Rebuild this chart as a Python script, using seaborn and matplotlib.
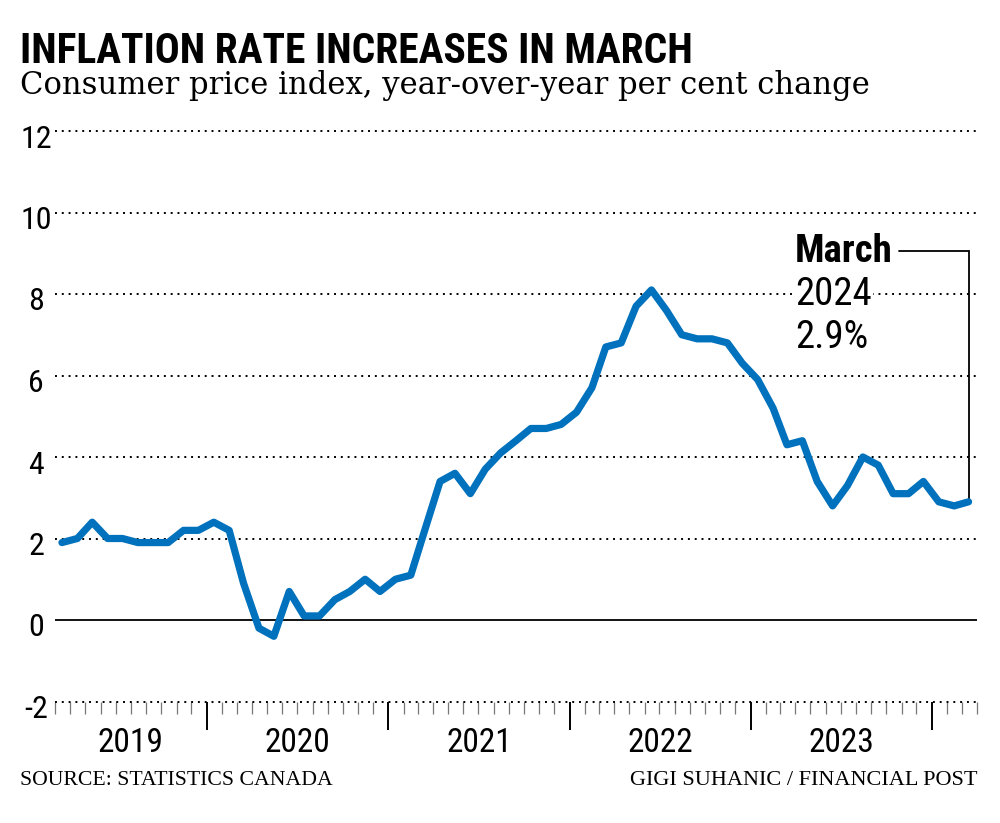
import matplotlib
matplotlib.use("Agg")
import pandas as pd
import matplotlib.pyplot as plt
import matplotlib.dates as mdates
import seaborn as sns
from matplotlib import font_manager, transforms

# CPI, year-over-year % change, March 2019 - March 2024
months = pd.date_range("2019-03-01", "2024-03-01", freq="MS")
cpi = [1.9, 2.0, 2.4, 2.0, 2.0, 1.9, 1.9, 1.9, 2.2, 2.2,
       2.4, 2.2, 0.9, -0.2, -0.4, 0.7, 0.1, 0.1, 0.5, 0.7, 1.0, 0.7,
       1.0, 1.1, 2.2, 3.4, 3.6, 3.1, 3.7, 4.1, 4.4, 4.7, 4.7, 4.8,
       5.1, 5.7, 6.7, 6.8, 7.7, 8.1, 7.6, 7.0, 6.9, 6.9, 6.8, 6.3,
       5.9, 5.2, 4.3, 4.4, 3.4, 2.8, 3.3, 4.0, 3.8, 3.1, 3.1, 3.4,
       2.9, 2.8, 2.9]
y_ticks = [-2, 0, 2, 4, 6, 8, 10, 12]
years = [2019, 2020, 2021, 2022, 2023]
note_lines = ["March", "2024", "2.9%"]

# points sit in the middle of each month
df = pd.DataFrame({"month": months + pd.Timedelta(days=14), "cpi": cpi})

sns.set_theme(style="white")
installed = {f.name for f in font_manager.fontManager.ttflist}


def pick(*names):
    for n in names:
        if n in installed:
            return n
    return "DejaVu Sans"


cond = pick("Roboto Condensed", "Liberation Sans Narrow", "DejaVu Sans")
serif = pick("Liberation Serif", "DejaVu Serif")
wide_serif = pick("DejaVu Serif", "Liberation Serif")
plt.rcParams["font.family"] = [cond, "DejaVu Sans"]
plt.rcParams["axes.unicode_minus"] = False
plt.rcParams["text.color"] = "black"

fig = plt.figure(figsize=(10, 8.23), dpi=100)
ax = fig.add_axes([0.055, 1 - 701.5 / 823, 0.922, (701.5 - 131) / 823])

# gridlines
for v in y_ticks:
    if v == 0:
        ax.axhline(v, color="black", lw=1.3, zorder=1)
    else:
        ax.axhline(v, color="black", lw=1.4, ls=(0, (1, 2.5)), zorder=1, clip_on=False)

sns.lineplot(data=df, x="month", y="cpi", color="#0071bc", linewidth=5.2, ax=ax, zorder=3)

ax.set_xlim(pd.Timestamp("2019-03-01"), pd.Timestamp("2024-04-01"))
ax.set_ylim(-2, 12)
sns.despine(ax=ax, left=True, bottom=True)
ax.set_xlabel("")
ax.set_ylabel("")
ax.set_yticks([])
ax.xaxis.set_major_locator(mdates.YearLocator())
ax.xaxis.set_minor_locator(mdates.MonthLocator())
ax.tick_params(axis="x", which="major", bottom=True, direction="out", length=20,
               width=1.4, color="black", labelbottom=False)
ax.tick_params(axis="x", which="minor", bottom=True, direction="out", length=8.5,
               width=0.9, color="#777777", labelbottom=False)

# y labels
ytrans = transforms.blended_transform_factory(ax.transAxes, ax.transData) + \
    transforms.ScaledTranslation(-19 / 100, -8 / 100, fig.dpi_scale_trans)
for v in y_ticks:
    ax.text(0, v, str(v), transform=ytrans, ha="center", va="center", fontsize=23)

# year labels centred in each year span
xtrans = transforms.blended_transform_factory(ax.transData, ax.transAxes) + \
    transforms.ScaledTranslation(0, -42 / 100, fig.dpi_scale_trans)
left, right = ax.get_xlim()
for y in years:
    start = max(mdates.date2num(pd.Timestamp(f"{y}-01-01")), left)
    end = mdates.date2num(pd.Timestamp(f"{y + 1}-01-01"))
    ax.text((start + end) / 2, 0, str(y), transform=xtrans, ha="center", va="center", fontsize=24)

# annotation for latest value
last_x = df["month"].iloc[-1]
last_y = df["cpi"].iloc[-1]
ax.plot([last_x - pd.Timedelta(days=141), last_x, last_x], [9.05, 9.05, last_y],
        color="black", lw=1.3, solid_joinstyle="miter", zorder=2)
ntrans = transforms.blended_transform_factory(ax.transAxes, ax.transData)
for line, yv, w in zip(note_lines, [8.785, 7.73, 6.675], ["bold", "normal", "normal"]):
    ax.text(0.8026, yv, line, transform=ntrans, ha="left", va="baseline", fontsize=28,
            fontweight=w, bbox=dict(fc="white", ec="none", pad=1), zorder=4)

# titles and footer
title = fig.text(20 / 1000, 1 - 63 / 823, "INFLATION RATE INCREASES IN MARCH",
                 fontsize=30, fontweight="heavy", ha="left", va="baseline")
sub = fig.text(20 / 1000, 1 - 94 / 823, "Consumer price index, year-over-year per cent change",
               fontsize=22, family=wide_serif, ha="left", va="baseline")
src = fig.text(20 / 1000, 1 - 785 / 823, "SOURCE: STATISTICS CANADA",
               fontsize=14, family=serif, ha="left", va="baseline")
cred = fig.text(978 / 1000, 1 - 785 / 823, "GIGI SUHANIC / FINANCIAL POST",
                fontsize=14, family=serif, ha="right", va="baseline")

renderer = fig.canvas.get_renderer()
for t, w in [(title, 673), (sub, 850), (src, 315), (cred, 350)]:
    cur = t.get_window_extent(renderer).width
    t.set_fontsize(t.get_fontsize() * w / cur)

fig.savefig("out.png", dpi=100)
